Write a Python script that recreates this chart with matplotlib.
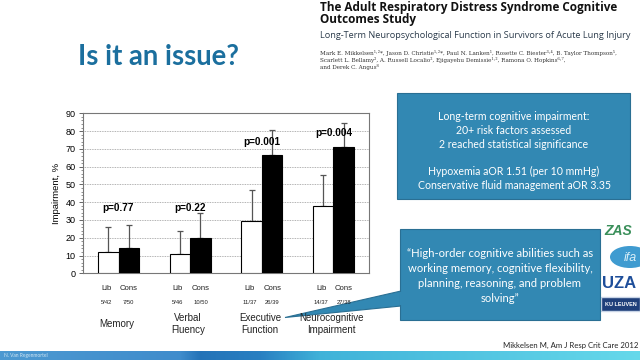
import numpy as np
import matplotlib
matplotlib.use("Agg")
import matplotlib.pyplot as plt
from matplotlib.patches import Rectangle, Polygon, Ellipse
from matplotlib.ticker import MultipleLocator

# ---- data ----
categories = ["Memory", "Verbal\nFluency", "Executive\nFunction", "Neurocognitive\nImpairment"]
lib_values = [11.9, 10.9, 29.7, 37.8]
cons_values = [14.0, 20.0, 66.7, 71.0]
lib_upper = [25.9, 23.8, 47.0, 55.3]
cons_upper = [27.0, 33.7, 80.6, 84.7]
p_labels = ["p=0.77", "p=0.22", "p=0.001", "p=0.004"]
p_heights = [37, 37, 74, 79]
lib_counts = ["5/42", "5/46", "11/37", "14/37"]
cons_counts = ["7/50", "10/50", "26/39", "27/38"]
yticks = [0, 10, 20, 30, 40, 50, 60, 70, 80, 90]

W, H = 640, 360
fig = plt.figure(figsize=(6.4, 3.6), dpi=100)
fig.patch.set_facecolor("white")

def px_rect(x0, y0, x1, y1):
    return [x0 / W, 1 - y1 / H, (x1 - x0) / W, (y1 - y0) / H]

# ---- chart ----
ax = fig.add_axes(px_rect(82.7, 113.3, 369.3, 273.3))
x = np.arange(len(categories))
bw = 0.288
off = 0.144
lib_err = [np.zeros(4), np.array(lib_upper) - np.array(lib_values)]
cons_err = [np.zeros(4), np.array(cons_upper) - np.array(cons_values)]
ax.bar(x - off, lib_values, bw, color="white", edgecolor="black", linewidth=0.8, zorder=3)
ax.bar(x + off, cons_values, bw, color="black", edgecolor="black", linewidth=0.8, zorder=3)
ax.errorbar(x - off, lib_values, yerr=lib_err, fmt="none", ecolor="#555555",
            elinewidth=0.9, capsize=2, capthick=0.9, zorder=2)
ax.errorbar(x + off, cons_values, yerr=cons_err, fmt="none", ecolor="#555555",
            elinewidth=0.9, capsize=2, capthick=0.9, zorder=2)
ax.set_xlim(-0.5, 3.5)
ax.set_ylim(0, 90)
ax.set_yticks(yticks)
ax.yaxis.set_minor_locator(MultipleLocator(2))
ax.set_xticks([])
ax.tick_params(axis="y", which="major", length=3, width=0.7, labelsize=6.5, color="#666666", pad=2)
ax.tick_params(axis="y", which="minor", length=1.5, width=0.5, color="#666666")
for lab in ax.get_yticklabels():
    lab.set_family("Liberation Sans")
for t in yticks[1:-1]:
    ax.axhline(t, color="#999999", linestyle=(0, (1, 1)), linewidth=0.6, zorder=1)
for s in ax.spines.values():
    s.set_color("#777777")
    s.set_linewidth(0.8)
ax.set_ylabel("Impairment, %", fontsize=6.8, family="Liberation Sans", labelpad=3)

for i in range(4):
    ax.text(x[i], p_heights[i], p_labels[i], ha="center", va="center", fontsize=7.2,
            fontweight="bold", family="Liberation Sans", zorder=4, clip_on=False)

# overlay in pixel coords
ov = fig.add_axes([0, 0, 1, 1], zorder=5)
ov.set_xlim(0, W)
ov.set_ylim(H, 0)
ov.axis("off")
ov.patch.set_alpha(0)

def data_to_px(xd):
    disp = ax.transData.transform((xd, 0))
    return disp[0] / fig.dpi * 100

for i in range(4):
    xl = data_to_px(x[i] - off)
    xc = data_to_px(x[i] + off)
    xm = data_to_px(x[i])
    ov.text(xl - 2, 289, "Lib", ha="center", va="center", fontsize=5.6, family="Liberation Sans", color="#222222")
    ov.text(xc, 289, "Cons", ha="center", va="center", fontsize=5.6, family="Liberation Sans", color="#222222")
    ov.text(xl - 2, 302.7, lib_counts[i], ha="center", va="center", fontsize=4.2, family="Liberation Sans", color="#222222")
    ov.text(xc, 302.7, cons_counts[i], ha="center", va="center", fontsize=4.2, family="Liberation Sans", color="#222222")
    ov.text(xm - 2, 324, categories[i], ha="center", va="center", fontsize=7, family="Liberation Sans",
            color="#222222", linespacing=1.15)

# ---- slide decorations ----
blue_title = "#1b6f9e"
ov.text(158, 57, "Is it an issue?", ha="center", va="center", fontsize=19.8, fontweight="bold",
        family="Lato", color=blue_title)

ov.text(320, 13.5, "The Adult Respiratory Distress Syndrome Cognitive\nOutcomes Study", ha="left", va="center",
        fontsize=8.5, fontweight="bold", family="Open Sans", color="#111111", linespacing=0.95)
ov.text(320, 36, "Long-Term Neuropsychological Function in Survivors of Acute Lung Injury", ha="left",
        va="center", fontsize=6.6, family="Open Sans", color="#2b3b4b")
authors = ["Mark E. Mikkelsen\u00b9\u02d2\u00b2*, Jason D. Christie\u00b9\u02d2\u00b2*, Paul N. Lanken\u00b9, Rosette C. Biester\u00b3\u02d2\u2074, B. Taylor Thompson\u2075,",
           "Scarlett L. Bellamy\u00b2, A. Russell Localio\u00b2, Ejigayehu Demissie\u00b9\u02d2\u00b2, Ramona O. Hopkins\u2076\u02d2\u2077,",
           "and Derek C. Angus\u2078"]
for yy, s in zip([53, 60, 67], authors):
    ov.text(320, yy, s, ha="left", va="center", fontsize=4.1, family="DejaVu Serif", color="#333333")

box_col = "#3288b3"
ov.add_patch(Rectangle((397, 93), 233, 106, facecolor=box_col, edgecolor="#2a6f93", linewidth=0.8))
box_lines = ["Long-term cognitive impairment:", "20+ risk factors assessed",
             "2 reached statistical significance", "", "Hypoxemia aOR 1.51 (per 10 mmHg)",
             "Conservative fluid management aOR 3.35"]
ys = [116.7, 130.7, 144.7, 158, 171.7, 185.5]
for yy, s in zip(ys, box_lines):
    ov.text(514, yy, s, ha="center", va="center", fontsize=7.6, family="Lato", color="white")

# callout with pointer
ov.add_patch(Polygon([(285, 317.5), (401, 291), (401, 306)], closed=True, facecolor=box_col,
                     edgecolor="#2a6f93", linewidth=0.8, zorder=2))
ov.add_patch(Rectangle((400, 229.3), 200, 90.7, facecolor=box_col, edgecolor="#2a6f93",
                       linewidth=0.8, zorder=3))
ov.add_patch(Rectangle((399.5, 291.6), 2.5, 13.8, facecolor=box_col, edgecolor="none", zorder=4))
call_lines = ["\u201cHigh-order cognitive abilities such as", "working memory, cognitive flexibility,",
              "planning, reasoning, and problem", "solving\u201d"]
for yy, s in zip([253.3, 268, 283.5, 299], call_lines):
    ov.text(500, yy, s, ha="center", va="center", fontsize=8.1, family="Lato", color="white", zorder=5)

# logos (approximate)
ov.text(604, 231, "ZAS", ha="left", va="center", fontsize=10, fontweight="bold", style="italic",
        family="Liberation Sans", color="#3a8f5a")
ov.add_patch(Ellipse((630, 257), 40, 22, facecolor="#3f9bd0", edgecolor="none"))
ov.text(624, 258, "ifa", ha="left", va="center", fontsize=9, style="italic", family="Liberation Sans",
        color="#d8eef8")
ov.text(602, 284, "UZA", ha="left", va="center", fontsize=12, fontweight="bold", family="Liberation Sans",
        color="#1e4e9a")
ov.add_patch(Rectangle((601, 297), 39, 14, facecolor="#1f3f7a", edgecolor="#c8d4e6", linewidth=1))
ov.text(605, 304, "KU LEUVEN", ha="left", va="center", fontsize=4, fontweight="bold",
        family="Liberation Sans", color="white")

ov.text(638, 345.5, "Mikkelsen M, Am J Resp Crit Care 2012", ha="right", va="center", fontsize=5.6,
        family="Lato", color="#222222")

# bottom gradient strip
grad = np.zeros((1, 640, 3))
stops_x = [0, 180, 200, 260, 320, 640]
stops_c = [(0.30, 0.60, 0.82), (0.25, 0.55, 0.80), (0.14, 0.45, 0.72), (0.16, 0.50, 0.76),
           (0.25, 0.70, 0.85), (0.40, 0.85, 0.92)]
for k in range(3):
    grad[0, :, k] = np.interp(np.arange(640), stops_x, [c[k] for c in stops_c])
ov.imshow(grad, extent=(0, 640, 360, 351), aspect="auto", zorder=1)
ov.text(4, 356, "N. Van Regenmortel", ha="left", va="center", fontsize=3.5, family="Lato",
        color="#cfe6f4")
ov.set_xlim(0, W)
ov.set_ylim(H, 0)

fig.savefig("out.png", dpi=100, facecolor="white")
